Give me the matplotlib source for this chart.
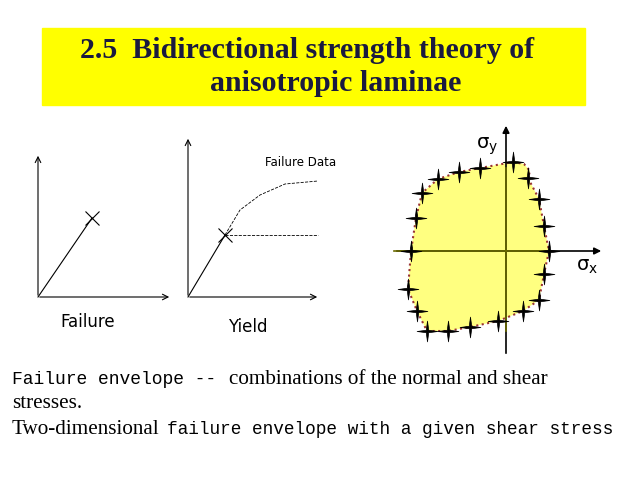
import matplotlib
matplotlib.use("Agg")
import matplotlib.pyplot as plt
from matplotlib.patches import Rectangle, Polygon
from matplotlib.path import Path

# envelope data points (sigma_x, sigma_y) in picture pixel coordinates
env_x = [513, 528, 539, 544, 549, 544, 539, 523, 498, 470, 448, 427, 417, 408, 411, 416, 422, 438, 459, 480]
env_y = [162, 178, 199, 226, 251, 274, 300, 311, 321, 327, 331, 331, 311, 289, 251, 218, 193, 179, 172, 168]
# outline (adds the rounded top-right corner)
out_x = env_x[:1] + [524, 530] + env_x[1:]
out_y = env_y[:1] + [164, 171] + env_y[1:]

# four-pointed star marker
w = 0.12
star = Path([(0, 1), (w, w), (1, 0), (w, -w), (0, -1), (-w, -w), (-1, 0), (-w, w), (0, 1)], closed=True)

fig = plt.figure(figsize=(6.38, 4.78), dpi=100)
ax = fig.add_axes([0, 0, 1, 1])
ax.set_xlim(0, 638)
ax.set_ylim(478, 0)
ax.axis("off")

# title box
ax.add_patch(Rectangle((42, 28), 543, 77, color="#ffff00", zorder=0))
ax.text(80, 50, "2.5  Bidirectional strength theory of", fontsize=21.5, fontweight="bold",
        family="Liberation Serif", va="center", color="#1a1a40")
ax.text(210, 83, "anisotropic laminae", fontsize=21.5, fontweight="bold",
        family="Liberation Serif", va="center", color="#1a1a40")

# failure sketch
ax.annotate("", xy=(38, 153), xytext=(38, 298), arrowprops=dict(arrowstyle="->", lw=0.8))
ax.annotate("", xy=(172, 297), xytext=(37, 297), arrowprops=dict(arrowstyle="->", lw=0.8))
ax.plot([38, 92], [297, 218], color="k", lw=0.8)
ax.plot([92], [218], marker="x", ms=10, color="k", mew=0.8)
ax.text(88, 322, "Failure", fontsize=12, ha="center", va="center", family="DejaVu Sans")

# yield sketch
ax.annotate("", xy=(188, 136), xytext=(188, 298), arrowprops=dict(arrowstyle="->", lw=0.8))
ax.annotate("", xy=(320, 297), xytext=(187, 297), arrowprops=dict(arrowstyle="->", lw=0.8))
ax.plot([188, 225], [297, 235], color="k", lw=0.8)
ax.plot([225], [235], marker="x", ms=10, color="k", mew=0.8)
ax.plot([225, 240, 260, 285, 318], [235, 210, 195, 184, 181], "k--", lw=0.6)
ax.plot([225, 318], [235, 235], "k--", lw=0.6)
ax.text(301, 162, "Failure Data", fontsize=8.5, ha="center", va="center", family="DejaVu Sans")
ax.text(248, 327, "Yield", fontsize=12, ha="center", va="center", family="DejaVu Sans")

# envelope
ax.add_patch(Polygon(list(zip(out_x, out_y)), closed=True, facecolor="#ffff80",
                     edgecolor="#993333", ls=":", lw=1.5, zorder=1))
ax.plot([394, 549], [251, 251], color="#6b6b00", lw=1.2, zorder=2)
ax.plot([506, 506], [168, 331], color="#6b6b00", lw=1.2, zorder=2)
ax.annotate("", xy=(604, 251), xytext=(394, 251), arrowprops=dict(arrowstyle="-|>", lw=1.2, color="k"), zorder=1.5)
ax.annotate("", xy=(506, 123), xytext=(506, 356), arrowprops=dict(arrowstyle="-|>", lw=1.2, color="k"), zorder=1.5)
ax.plot(env_x, env_y, ls="none", marker=star, ms=15, mew=0.5, color="k", zorder=3)
ax.text(487, 146, r"$\mathregular{\sigma_y}$", fontsize=14, ha="center", va="center", family="DejaVu Sans")
ax.text(587, 266, r"$\mathregular{\sigma_x}$", fontsize=14, ha="center", va="center", family="DejaVu Sans")

# bottom text
ax.text(12, 379, "Failure envelope --", fontsize=13, family="Liberation Mono", va="center")
ax.text(229, 379, "combinations of the normal and shear", fontsize=15.2, family="Liberation Serif", va="center")
ax.text(12, 404, "stresses.", fontsize=15.2, family="Liberation Serif", va="center")
ax.text(12, 430, "Two-dimensional", fontsize=15.2, family="Liberation Serif", va="center")
ax.text(167, 430, "failure envelope with a given shear stress", fontsize=12.8,
        family="Liberation Mono", va="center")

fig.savefig("out.png", dpi=100)
